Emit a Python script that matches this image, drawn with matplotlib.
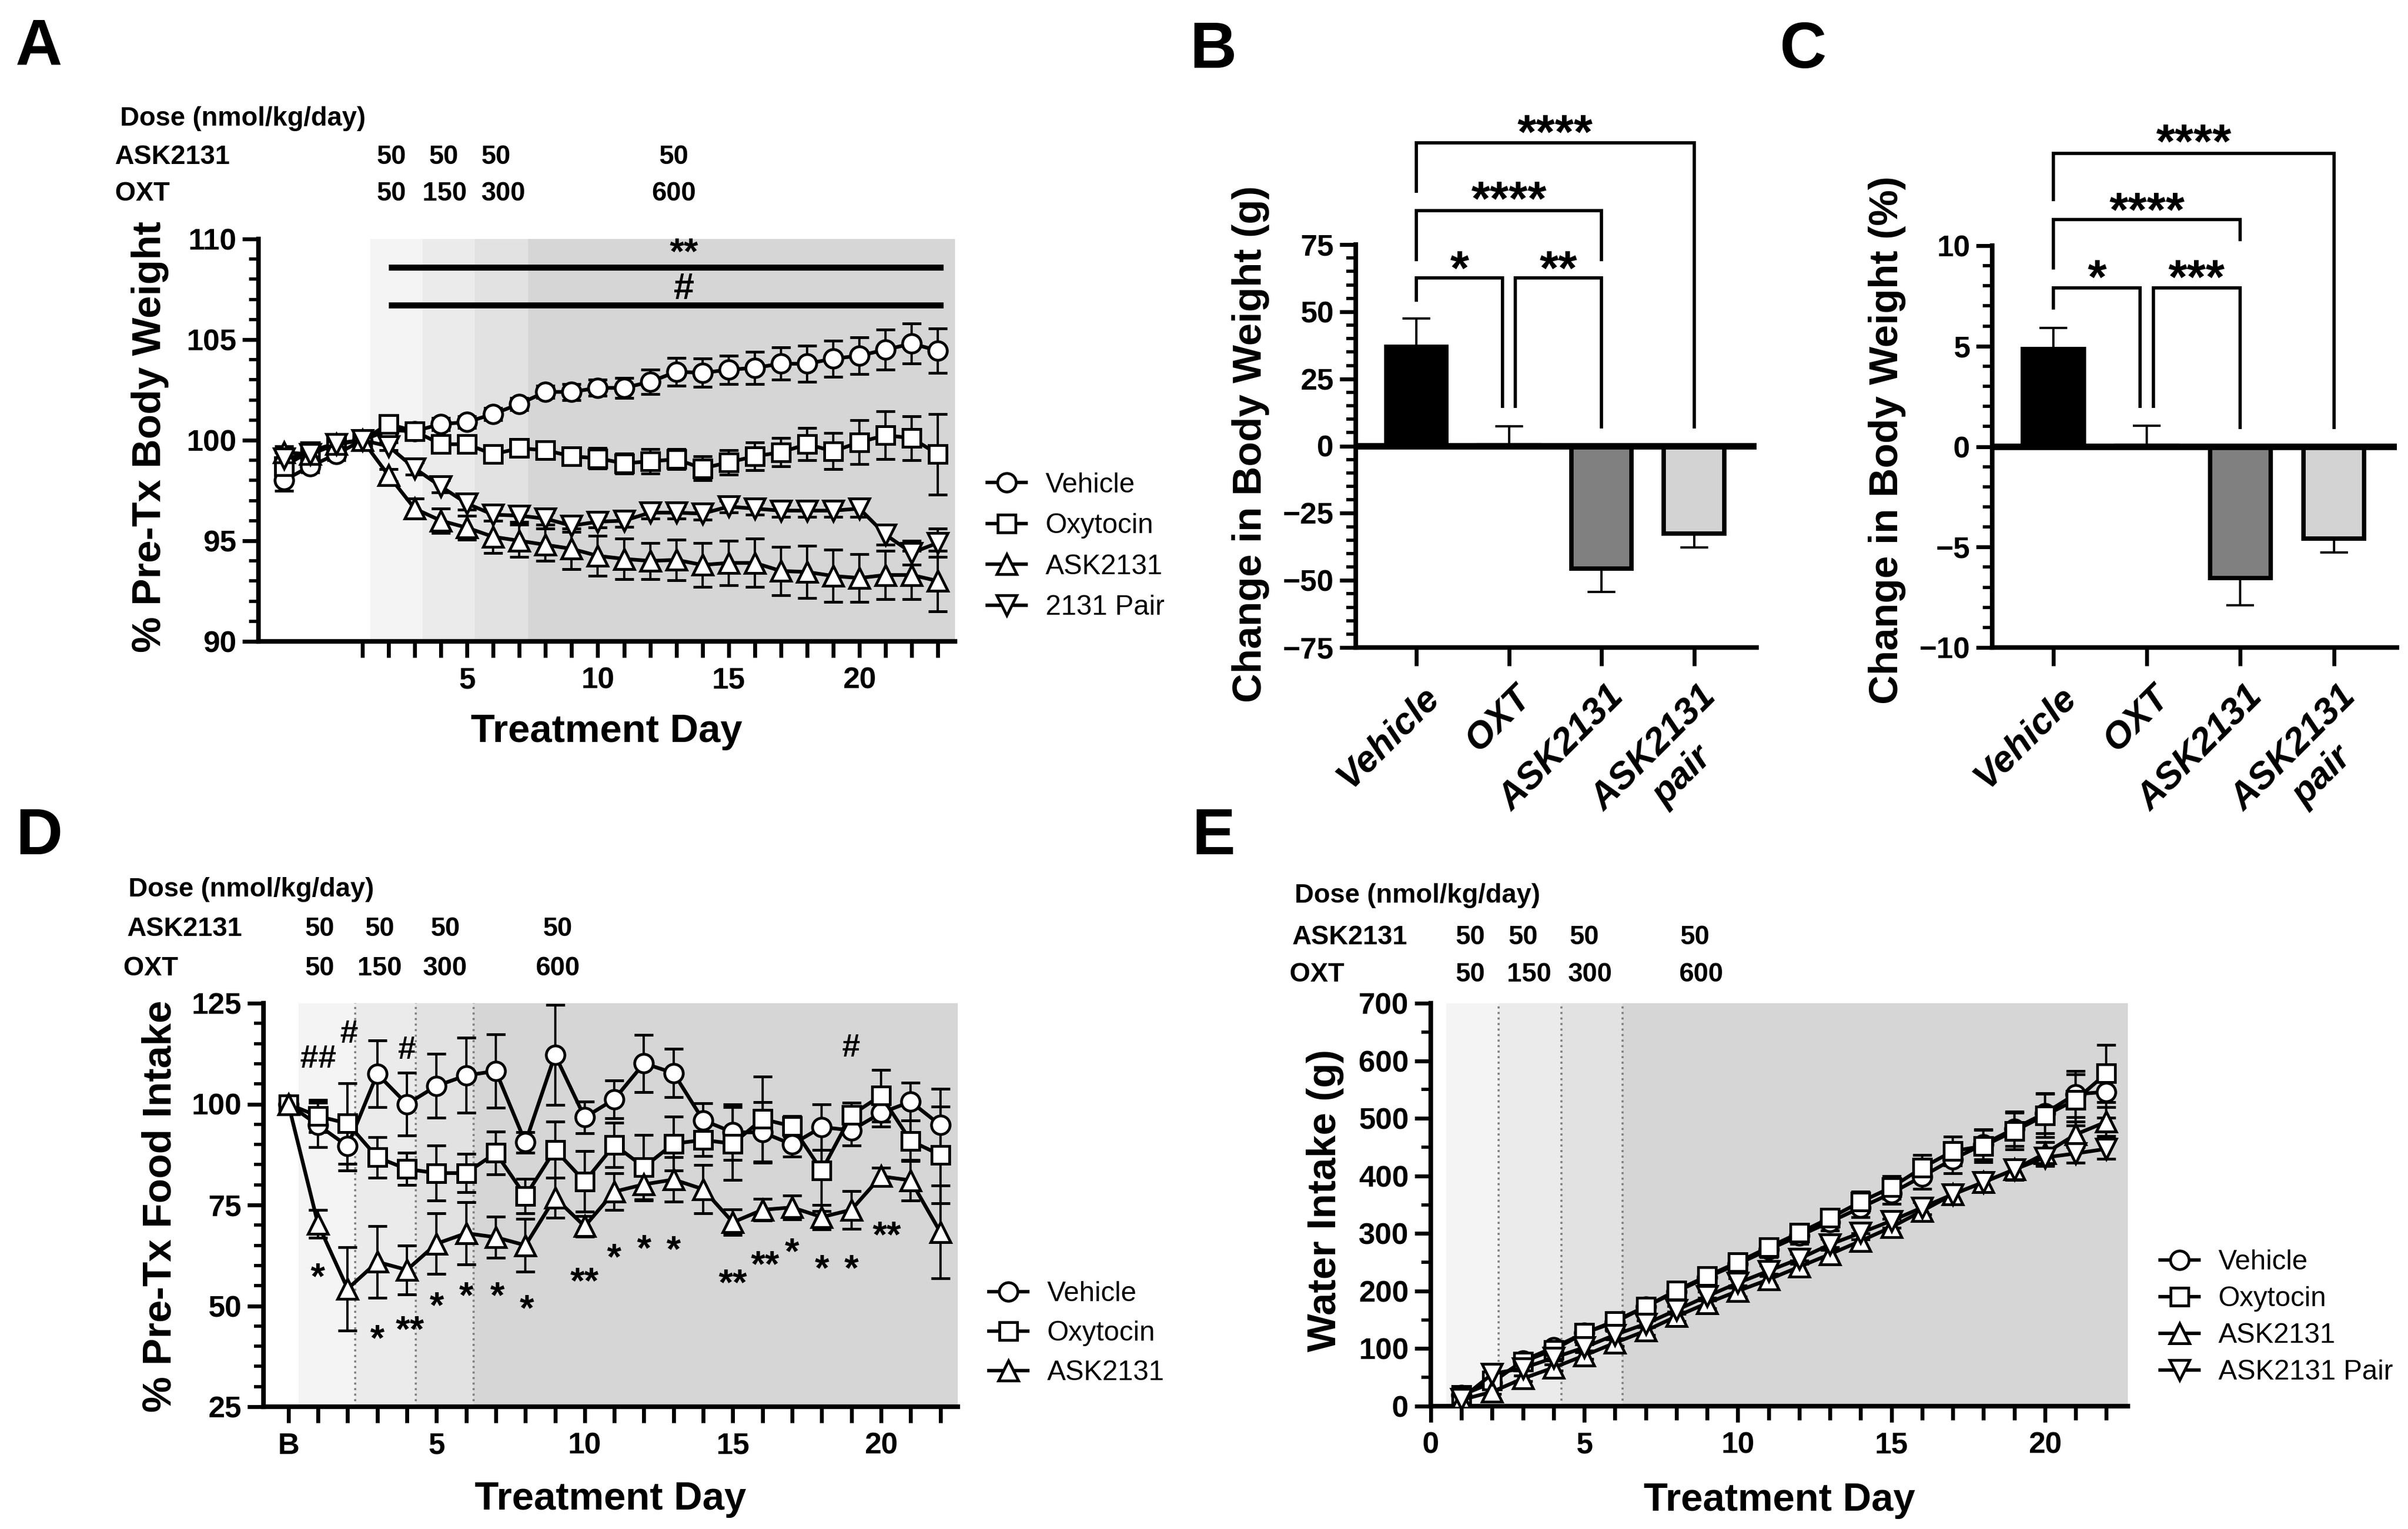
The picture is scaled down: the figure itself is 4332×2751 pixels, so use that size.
import numpy as np
import matplotlib
matplotlib.use("Agg")
import matplotlib.pyplot as plt
from matplotlib.lines import Line2D
from matplotlib.ticker import MultipleLocator
from matplotlib.transforms import blended_transform_factory, ScaledTranslation

plt.rcParams['font.family'] = ['Liberation Sans', 'DejaVu Sans']

# ----------------------------------------------------------------------------
#  DATA
# ----------------------------------------------------------------------------
# A: % pre-treatment body weight
bw_days = list(range(-2, 24))
bw_vehicle = [98.0, 98.7, 99.3, 100.0, 100.5, 100.45, 100.8, 100.9, 101.3, 101.8, 102.4, 102.4, 102.6,
              102.6, 102.9, 103.4, 103.35, 103.5, 103.6, 103.8, 103.8, 104.05, 104.2, 104.5, 104.8, 104.45]
bw_vehicle_err = [0.5, 0.3, 0.3, 0.0, 0.3, 0.3, 0.3, 0.3, 0.3, 0.3, 0.3, 0.4, 0.4, 0.5, 0.6, 0.7, 0.7,
                  0.7, 0.8, 0.8, 0.9, 0.9, 0.9, 1.0, 1.0, 1.1]
bw_oxt = [98.7, 99.45, 99.85, 100.0, 100.8, 100.45, 99.8, 99.8, 99.3, 99.6, 99.5, 99.2, 99.1, 98.85,
          98.95, 99.05, 98.6, 98.9, 99.2, 99.4, 99.8, 99.45, 99.9, 100.25, 100.1, 99.3]
bw_oxt_err = [0.3, 0.3, 0.2, 0.0, 0.3, 0.3, 0.3, 0.3, 0.3, 0.3, 0.3, 0.4, 0.5, 0.5, 0.6, 0.5, 0.6, 0.6,
              0.7, 0.7, 0.8, 0.9, 1.1, 1.2, 1.1, 2.0]
bw_ask = [99.4, 99.3, 99.8, 100.0, 98.25, 96.6, 96.0, 95.65, 95.2, 95.0, 94.8, 94.6, 94.25, 94.1, 94.0,
          94.05, 93.8, 93.9, 93.9, 93.5, 93.45, 93.25, 93.15, 93.3, 93.3, 93.0]
bw_ask_err = [0.3, 0.3, 0.2, 0.0, 0.3, 0.5, 0.6, 0.6, 0.8, 0.8, 0.8, 1.0, 1.0, 1.0, 0.9, 1.0, 1.1, 1.1,
              1.2, 1.2, 1.3, 1.3, 1.2, 1.2, 1.2, 1.5]
bw_pair = [99.1, 99.3, 99.8, 100.0, 99.7, 98.6, 97.7, 96.85, 96.3, 96.25, 96.1, 95.75, 95.95, 96.0, 96.4,
           96.4, 96.35, 96.7, 96.6, 96.5, 96.5, 96.5, 96.6, 95.3, 94.4, 94.9]
bw_pair_err = [0.3, 0.3, 0.2, 0.0, 0.2, 0.3, 0.3, 0.3, 0.3, 0.3, 0.3, 0.3, 0.3, 0.3, 0.3, 0.3, 0.3, 0.3,
               0.3, 0.3, 0.3, 0.3, 0.4, 0.5, 0.6, 0.7]

# B / C: change in body weight
bar_groups = ['Vehicle', 'OXT', 'ASK2131', 'ASK2131\npair']
bar_colors = ['black', 'white', '#808080', '#d3d3d3']
dbw_g = [37.0, 0.3, -45.7, -32.6]
dbw_g_err = [10.5, 7.1, 8.6, 5.2]
dbw_pct = [4.85, 0.05, -6.55, -4.57]
dbw_pct_err = [1.05, 0.99, 1.35, 0.69]
# brackets: (group from, group to, bar height, left leg end, right leg end, label, label height)
brackets_g = [(0, 0.93, 62.6, 54.3, 14.7, '*', 70.9),
              (1.07, 2, 62.6, 14.7, 7.2, '**', 70.9),
              (0, 2, 87.6, 69.4, 69.4, '****', 96.7),
              (0, 3, 112.8, 94.8, 7.2, '****', 121.5)]
brackets_pct = [(0, 0.93, 7.9, 6.9, 2.0, '*', 9.07),
                (1.07, 2, 7.9, 2.0, 0.96, '***', 9.07),
                (0, 2, 11.3, 8.9, 10.3, '****', 12.4),
                (0, 3, 14.6, 12.3, 0.96, '****', 15.8)]

# D: % pre-treatment food intake
fi_days = list(range(0, 23))
fi_vehicle = [100, 94.8, 89.6, 107.5, 100.0, 104.5, 107.1, 108.2, 90.5, 112.2, 96.7, 101.2, 110.1, 107.7,
              96.0, 93.0, 93.0, 90.0, 94.3, 93.5, 97.8, 100.6, 94.8]
fi_vehicle_err = [0, 5.5, 6.0, 8.3, 7.8, 7.9, 9.3, 9.1, 2.5, 12.4, 3.9, 4.7, 7.1, 6.0, 4.2, 6.9, 7.5, 3.0,
                  5.6, 3.7, 3.4, 4.7, 9.0]
fi_oxt = [100, 97.0, 95.2, 86.8, 83.9, 82.9, 82.9, 87.9, 77.2, 88.7, 80.8, 89.9, 84.4, 90.2, 91.1, 90.2,
          96.3, 94.5, 83.5, 97.3, 102.1, 90.9, 87.4]
fi_oxt_err = [0, 4.0, 10.0, 5.0, 4.0, 6.8, 4.8, 5.3, 4.3, 7.0, 7.5, 5.5, 8.0, 6.7, 4.0, 9.0, 10.5, 2.5,
              10.0, 3.0, 6.4, 5.0, 12.0]
fi_ask = [100, 70.3, 54.2, 60.9, 58.9, 65.4, 68.0, 67.0, 65.0, 76.8, 69.7, 78.3, 80.1, 81.3, 78.9, 70.7,
          73.8, 74.4, 72.0, 73.8, 82.1, 81.1, 68.3]
fi_ask_err = [0, 3.4, 10.3, 8.9, 6.1, 7.5, 7.7, 5.1, 6.5, 5.0, 2.5, 4.6, 4.0, 5.5, 6.0, 3.2, 2.7, 3.0,
              3.0, 4.7, 2.1, 5.0, 11.5]
# significance marks over the food intake curves: (day, glyph centre, text)
fi_hash = [(1.0, 111.9, '##'), (2.05, 118.0, '#'), (4.0, 114.1, '#'), (19.0, 114.6, '#')]
fi_star = [(1.0, 59.7, '*'), (3.0, 44.5, '*'), (4.1, 46.6, '**'), (5.0, 52.6, '*'), (6.0, 55.1, '*'),
           (7.05, 55.1, '*'), (8.05, 51.9, '*'), (10.0, 58.6, '**'), (11.0, 64.6, '*'), (12.0, 66.7, '*'),
           (13.0, 66.5, '*'), (15.0, 58.2, '**'), (16.1, 62.8, '**'), (17.0, 65.9, '*'),
           (18.0, 61.8, '*'), (19.0, 61.8, '*'), (20.2, 70.1, '**')]

# E: cumulative water intake
wi_days = list(range(1, 23))
wi_vehicle = [19, 41, 79, 102, 127, 146, 173, 199, 224, 247, 272, 296, 320, 345, 370, 399, 429, 455, 482,
              509, 542, 546]
wi_vehicle_err = [4, 5, 6, 7, 8, 8, 9, 10, 11, 12, 13, 14, 15, 17, 19, 21, 24, 26, 30, 35, 40, 45]
wi_oxt = [19, 44, 77, 98, 127, 148, 173, 201, 226, 250, 276, 301, 327, 355, 380, 414, 443, 452, 478, 505,
          532, 578]
wi_oxt_err = [4, 5, 6, 7, 8, 9, 10, 11, 12, 13, 14, 15, 16, 18, 20, 22, 25, 28, 32, 38, 44, 50]
wi_ask = [11, 25, 48, 67, 88, 110, 131, 156, 179, 200, 220, 242, 264, 287, 311, 339, 368, 389, 411, 439,
          472, 494]
wi_ask_err = [3, 4, 5, 5, 6, 6, 7, 8, 9, 10, 10, 11, 12, 13, 14, 15, 16, 17, 18, 20, 22, 25]
wi_pair = [13, 56, 66, 84, 102, 124, 143, 167, 191, 214, 235, 256, 281, 301, 322, 345, 368, 389, 411, 432,
           439, 447]
wi_pair_err = [3, 4, 4, 5, 5, 6, 6, 7, 8, 8, 9, 9, 10, 11, 12, 12, 13, 14, 15, 15, 16, 17]

# dosing schedule (treatment-day phases) and dose labels
dose_ask = ['50', '50', '50', '50']
dose_oxt = ['50', '150', '300', '600']
phase_A = [1.3, 3.3, 5.3, 7.33, 23.65]
phase_D = [0.35, 2.25, 4.3, 6.25, 22.59]
phase_E = [0.5, 2.2, 4.25, 6.25, 22.7]
phase_colors = ['#f4f4f4', '#ebebeb', '#e2e2e2', '#d6d6d6']

# ----------------------------------------------------------------------------
#  FIGURE
# ----------------------------------------------------------------------------
W, H, DPI = 4332, 2751, 300
fig = plt.figure(figsize=(W / DPI, H / DPI), dpi=DPI)
PT = DPI / 72.0   # pixels per point


def rect(l, t, r, b):
    return [l / W, 1 - b / H, (r - l) / W, (b - t) / H]


def fy(px):
    return 1 - px / H


MS = {'o': 8, 's': 7.5, '^': 8.5, 'v': 8.5}


def style(ax, ylab_fs=13):
    for s in ['top', 'right']:
        ax.spines[s].set_visible(False)
    for s in ['left', 'bottom']:
        ax.spines[s].set_linewidth(2.0)
    ax.tick_params(which='major', direction='out', length=7, width=1.7, labelsize=ylab_fs)
    ax.tick_params(which='minor', direction='out', length=4, width=1.4)
    ax.tick_params(axis='y', pad=2.5)
    ax.tick_params(axis='x', pad=4)


def bold_ticks(ax):
    plt.setp(ax.get_xticklabels() + ax.get_yticklabels(), fontweight='bold')


def phases(ax, edges, dotted):
    for x0, x1, c in zip(edges[:-1], edges[1:], phase_colors):
        ax.axvspan(x0, x1, color=c, lw=0, zorder=0)
    if dotted:
        for x in edges[1:-1]:
            ax.axvline(x, color='#808080', lw=0.9, ls=':', zorder=1)


def series(ax, x, y, e, m):
    ax.errorbar(x, y, yerr=e, color='k', lw=1.6, marker=m, ms=MS[m], mfc='white', mec='k', mew=1.2,
                ecolor='k', elinewidth=1.0, capsize=4, capthick=1.0, zorder=3)


def mark(ax, x, y, s, fs, **kw):
    # y is the visual centre of the (last line of) glyphs; asterisks sit high in the em box
    k = 0.59 if '*' in s.split('\n')[-1] else 0.35
    ax.annotate(s, (x, y), xytext=(0, -k * fs), textcoords='offset points', ha='center',
                va='baseline', fontsize=fs, fontweight='bold', annotation_clip=False, **kw)


def dose_block(ax, left_px, rows_px, xs_ask, xs_oxt, fs=11.5):
    off = 0.36 * fs * PT
    fig.text(left_px[0] / W, fy(rows_px[0] + off), 'Dose (nmol/kg/day)', fontsize=fs, fontweight='bold')
    fig.text(left_px[1] / W, fy(rows_px[1] + off), 'ASK2131', fontsize=fs, fontweight='bold')
    fig.text(left_px[2] / W, fy(rows_px[2] + off), 'OXT', fontsize=fs, fontweight='bold')
    tr = blended_transform_factory(ax.transData, fig.transFigure)
    for x, s in zip(xs_ask, dose_ask):
        ax.text(x, fy(rows_px[1] + off), s, transform=tr, ha='center', fontsize=fs, fontweight='bold')
    for x, s in zip(xs_oxt, dose_oxt):
        ax.text(x, fy(rows_px[2] + off), s, transform=tr, ha='center', fontsize=fs, fontweight='bold')


def legend(ax, labels, markers, left_px, centre_px, spacing):
    handles = [Line2D([], [], color='k', lw=1.5, marker=m, ms=MS[m], mfc='white', mec='k', mew=1.2)
               for m in markers]
    ax.legend(handles, labels, loc='center left', bbox_to_anchor=(left_px / W, fy(centre_px)),
              bbox_transform=fig.transFigure, frameon=False, fontsize=12, borderpad=0,
              borderaxespad=0, handlelength=1.4, handletextpad=0.7, labelspacing=spacing)


def panel_letter(txt, cx, cy):
    fs = 28
    fig.text(cx / W, fy(cy + 0.358 * fs * PT), txt, fontsize=fs, fontweight='bold', ha='center')


def ylab(txt, cx, cy):
    fig.text(cx / W, fy(cy), txt, rotation=90, ha='center', va='center', fontsize=17.5, fontweight='bold')


def xlab(ax, y):
    ax.text(0.5, y, 'Treatment Day', transform=ax.transAxes, ha='center', va='center',
            fontsize=17, fontweight='bold')


# ---------------------------------- A ---------------------------------------
axA = fig.add_axes(rect(465, 430, 1718, 1154))
style(axA)
phases(axA, phase_A, dotted=False)
for y, e, m in [(bw_vehicle, bw_vehicle_err, 'o'), (bw_oxt, bw_oxt_err, 's'),
                (bw_ask, bw_ask_err, '^'), (bw_pair, bw_pair_err, 'v')]:
    series(axA, bw_days, y, e, m)
axA.set_xlim(-2.97, 23.65)
axA.set_ylim(90, 110)
axA.set_yticks([90, 95, 100, 105, 110])
axA.yaxis.set_minor_locator(MultipleLocator(1))
axA.set_xticks([5, 10, 15, 20])
axA.set_xticks(range(1, 24), minor=True)
axA.tick_params(axis='x', which='minor', length=7, width=1.7)
bold_ticks(axA)
for yb in [108.6, 106.7]:
    axA.plot([2, 23.2], [yb, yb], color='k', lw=2.6, solid_capstyle='butt', zorder=4)
# "**" over the upper bar and "#" over the lower bar, set as one two-line label
mark(axA, 13.3, 107.65, '**\n#', 16, linespacing=1.05)
xlab(axA, -0.225)
ylab('% Pre-Tx Body Weight', 270, 786)
dose_block(axA, (216, 207, 207), (209, 278, 344), [2.1, 4.1, 6.1, 12.9], [2.1, 4.15, 6.4, 12.9])
legend(axA, ['Vehicle', 'Oxytocin', 'ASK2131', '2131 Pair'], ['o', 's', '^', 'v'], 1776, 983, 0.55)
panel_letter('A', 69, 75)


# -------------------------------- B / C -------------------------------------
def bar_panel(ax, vals, errs, ylim, step, minor, brackets):
    style(ax)
    x = np.arange(len(vals))
    ax.bar(x, vals, width=0.65, color=bar_colors, edgecolor='k', lw=1.9, zorder=2)
    lo = [e if v < 0 else 0 for v, e in zip(vals, errs)]
    hi = [e if v >= 0 else 0 for v, e in zip(vals, errs)]
    ax.errorbar(x, vals, yerr=[lo, hi], fmt='none', ecolor='k', elinewidth=1.0, capsize=6,
                capthick=1.0, zorder=1)
    ax.axhline(0, color='k', lw=2.8, zorder=3)
    ax.set_xlim(-0.655, 3.675)
    ax.set_ylim(*ylim)
    ax.set_yticks(np.arange(ylim[0], ylim[1] + step / 2, step))
    ax.yaxis.set_minor_locator(MultipleLocator(minor))
    ax.set_xticks(x)
    ax.set_xticklabels(bar_groups, rotation=45, ha='right', va='top', rotation_mode='anchor',
                       fontsize=16, fontweight='bold', fontstyle='italic', multialignment='center')
    ax.tick_params(axis='x', length=8, pad=6)
    plt.setp(ax.get_yticklabels(), fontweight='bold')
    shift = ScaledTranslation(9 / DPI, 0, fig.dpi_scale_trans)
    for lab in ax.get_xticklabels():
        lab.set_transform(lab.get_transform() + shift)
    for x0, x1, yb, yl, yr, s, yt in brackets:
        ax.plot([x0, x0, x1, x1], [yl, yb, yb, yr], color='k', lw=1.4, clip_on=False,
                solid_joinstyle='miter', zorder=4)
        mark(ax, (x0 + x1) / 2, yt, s, 21)


axB = fig.add_axes(rect(2439, 440, 3160, 1165))
bar_panel(axB, dbw_g, dbw_g_err, (-75, 75), 25, 5, brackets_g)
ylab('Change in Body Weight (g)', 2250, 799)
panel_letter('B', 2182, 80)

axC = fig.add_axes(rect(3584, 442, 4312, 1165))
bar_panel(axC, dbw_pct, dbw_pct_err, (-10, 10), 5, 1, brackets_pct)
ylab('Change in Body Weight (%)', 3395, 792)
panel_letter('C', 3243, 80)

# ---------------------------------- D ---------------------------------------
axD = fig.add_axes(rect(474, 1805, 1723, 2531))
style(axD)
phases(axD, phase_D, dotted=True)
for y, e, m in [(fi_vehicle, fi_vehicle_err, 'o'), (fi_oxt, fi_oxt_err, 's'), (fi_ask, fi_ask_err, '^')]:
    series(axD, fi_days, y, e, m)
axD.set_xlim(-0.84, 22.59)
axD.set_ylim(25, 125)
axD.set_yticks([25, 50, 75, 100, 125])
axD.yaxis.set_minor_locator(MultipleLocator(5))
axD.set_xticks([0, 5, 10, 15, 20])
axD.set_xticklabels(['B', '5', '10', '15', '20'])
axD.set_xticks(range(0, 23), minor=True)
axD.tick_params(axis='x', which='minor', length=7, width=1.7)
bold_ticks(axD)
for d, y, s in fi_hash:
    mark(axD, d, y, s, 14)
for d, y, s in fi_star:
    mark(axD, d, y, s, 16)
xlab(axD, -0.230)
ylab('% Pre-Tx Food Intake', 288, 2170)
dose_block(axD, (231, 229, 222), (1596, 1667, 1738), [1.05, 3.08, 5.3, 9.08], [1.05, 3.08, 5.3, 9.08])
legend(axD, ['Vehicle', 'Oxytocin', 'ASK2131'], ['o', 's', '^'], 1779, 2399, 0.5)
panel_letter('D', 70, 1495)

# ---------------------------------- E ---------------------------------------
axE = fig.add_axes(rect(2574, 1805, 3828, 2530))
style(axE)
phases(axE, phase_E, dotted=True)
for y, e, m in [(wi_vehicle, wi_vehicle_err, 'o'), (wi_oxt, wi_oxt_err, 's'),
                (wi_ask, wi_ask_err, '^'), (wi_pair, wi_pair_err, 'v')]:
    series(axE, wi_days, y, e, m)
axE.set_xlim(0, 22.7)
axE.set_ylim(0, 700)
axE.set_yticks(range(0, 701, 100))
axE.yaxis.set_minor_locator(MultipleLocator(50))
axE.set_xticks([0, 5, 10, 15, 20])
axE.set_xticks(range(0, 23), minor=True)
axE.tick_params(axis='x', which='minor', length=6, width=1.7)
bold_ticks(axE)
xlab(axE, -0.234)
ylab('Water Intake (g)', 2384, 2160)
dose_block(axE, (2329, 2325, 2320), (1607, 1682, 1749), [1.28, 3.0, 5.0, 8.6], [1.28, 3.2, 5.2, 8.8])
legend(axE, ['Vehicle', 'Oxytocin', 'ASK2131', 'ASK2131 Pair'], ['o', 's', '^', 'v'], 3886, 2370, 0.4)
panel_letter('E', 2183, 1495)

fig.savefig('out.png', dpi=DPI)
